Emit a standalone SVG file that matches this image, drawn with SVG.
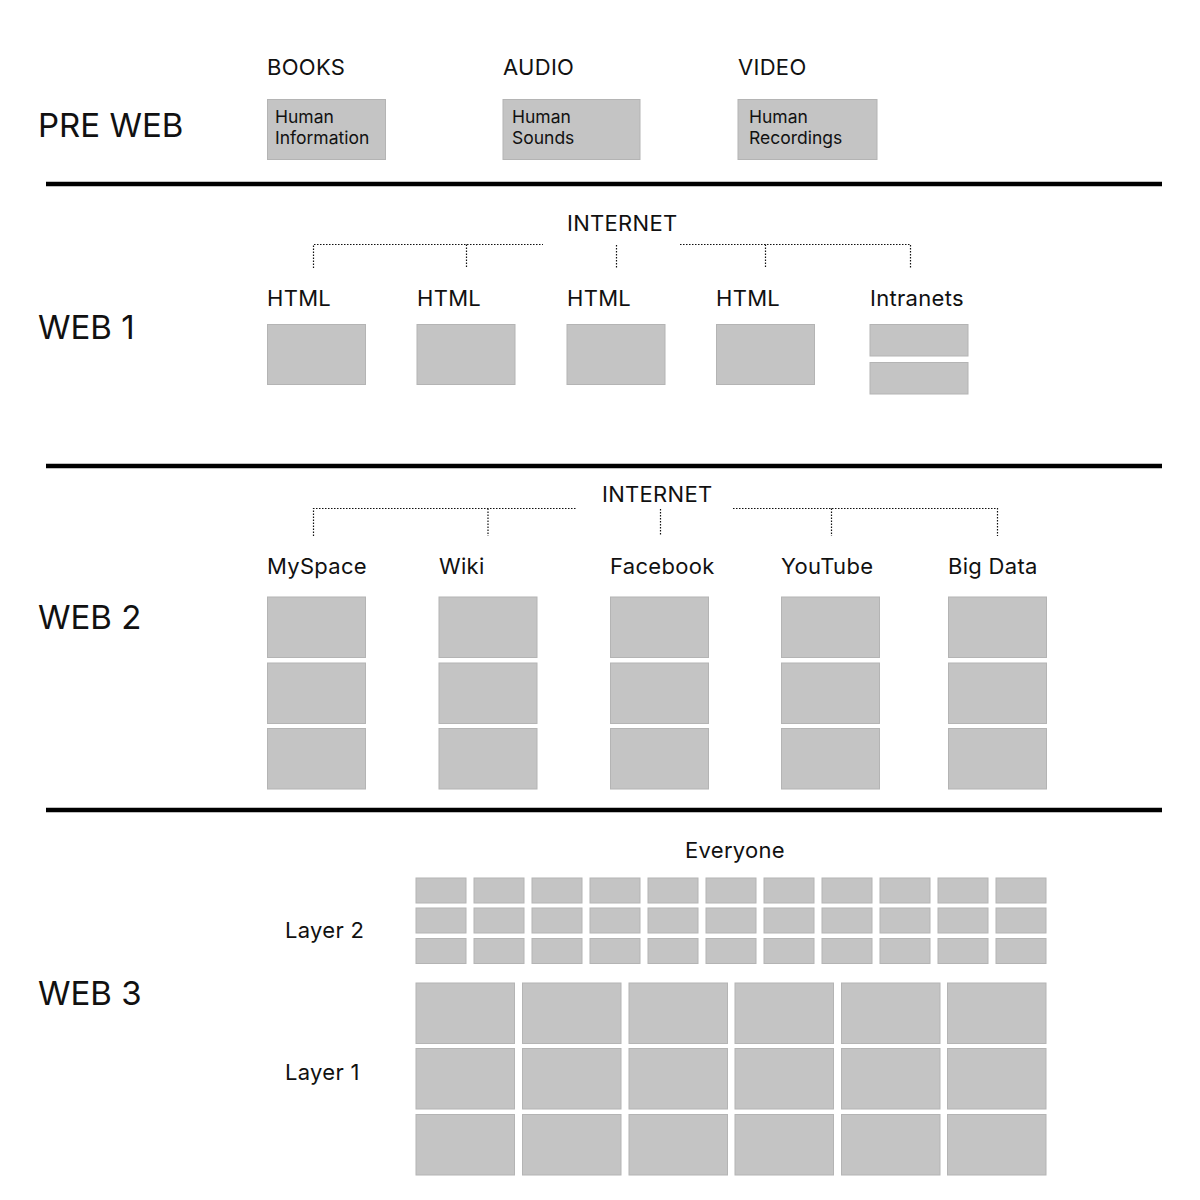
<svg xmlns="http://www.w3.org/2000/svg" width="1200" height="1200" viewBox="0 0 1200 1200">
<style>
text{font-family:Inter,"Noto Sans","Liberation Sans",sans-serif;fill:#111}
.h{font-size:33px}
.l{font-size:22px;letter-spacing:0.3px}
.s{font-size:17.5px}
.b{fill:#c4c4c4;stroke:#b4b4b4;stroke-width:1}
.sep{stroke:#000;stroke-width:4.5}
.dot{stroke:#111;stroke-width:1.2;stroke-dasharray:1.5 1.5;fill:none}
</style>
<rect width="1200" height="1200" fill="#fff"/>
<g id="separators">
<line class="sep" x1="46" y1="184" x2="1162" y2="184"/>
<line class="sep" x1="46" y1="466" x2="1162" y2="466"/>
<line class="sep" x1="46" y1="810" x2="1162" y2="810"/>
</g>
<g id="titles">
<text class="h" x="38" y="137">PRE WEB</text>
<text class="h" x="38" y="339">WEB 1</text>
<text class="h" x="38" y="629">WEB 2</text>
<text class="h" x="38" y="1005">WEB 3</text>
</g>
<g id="preweb">
<g id="books"><text class="l" x="267" y="75">BOOKS</text><rect class="b" x="267.5" y="99.5" width="118" height="60"/><text class="s" x="275" y="123">Human</text><text class="s" x="275" y="144">Information</text></g>
<g id="audio"><text class="l" x="503" y="75">AUDIO</text><rect class="b" x="503" y="99.5" width="137" height="60"/><text class="s" x="512" y="123">Human</text><text class="s" x="512" y="144">Sounds</text></g>
<g id="video"><text class="l" x="738" y="75">VIDEO</text><rect class="b" x="738" y="99.5" width="139" height="60"/><text class="s" x="749" y="123">Human</text><text class="s" x="749" y="144">Recordings</text></g>
</g>
<g id="connectors">
<path class="dot" d="M313.5 268V244.5H543M466.5 244.5V268M616.5 245V268M680 244.5H910.5V268M765.5 244.5V268"/>
<path class="dot" d="M313.5 536V508.5H576M488 508.5V536M660.5 509V536M733 508.5H997.5V536M831.5 508.5V536"/>
</g>
<g id="web1">
<text class="l" x="567" y="231">INTERNET</text>
<g id="html1"><text class="l" x="267" y="306">HTML</text><rect class="b" x="267.5" y="324.5" width="98" height="60"/></g>
<g id="html2"><text class="l" x="417" y="306">HTML</text><rect class="b" x="417" y="324.5" width="98" height="60"/></g>
<g id="html3"><text class="l" x="567" y="306">HTML</text><rect class="b" x="567" y="324.5" width="98" height="60"/></g>
<g id="html4"><text class="l" x="716" y="306">HTML</text><rect class="b" x="716.5" y="324.5" width="98" height="60"/></g>
<g id="intranets"><text class="l" x="870" y="306">Intranets</text><rect class="b" x="870" y="324.5" width="98" height="31.5"/><rect class="b" x="870" y="362.5" width="98" height="31.5"/></g>
</g>
<g id="web2">
<text class="l" x="602" y="502">INTERNET</text>
<g id="myspace"><text class="l" x="267" y="574">MySpace</text><rect class="b" x="267.5" y="597" width="98" height="60.5"/><rect class="b" x="267.5" y="663" width="98" height="60.5"/><rect class="b" x="267.5" y="728.5" width="98" height="60.5"/></g>
<g id="wiki"><text class="l" x="439" y="574">Wiki</text><rect class="b" x="439" y="597" width="98" height="60.5"/><rect class="b" x="439" y="663" width="98" height="60.5"/><rect class="b" x="439" y="728.5" width="98" height="60.5"/></g>
<g id="facebook"><text class="l" x="610" y="574">Facebook</text><rect class="b" x="610.5" y="597" width="98" height="60.5"/><rect class="b" x="610.5" y="663" width="98" height="60.5"/><rect class="b" x="610.5" y="728.5" width="98" height="60.5"/></g>
<g id="youtube"><text class="l" x="781" y="574">YouTube</text><rect class="b" x="781.5" y="597" width="98" height="60.5"/><rect class="b" x="781.5" y="663" width="98" height="60.5"/><rect class="b" x="781.5" y="728.5" width="98" height="60.5"/></g>
<g id="bigdata"><text class="l" x="948" y="574">Big Data</text><rect class="b" x="948.5" y="597" width="98" height="60.5"/><rect class="b" x="948.5" y="663" width="98" height="60.5"/><rect class="b" x="948.5" y="728.5" width="98" height="60.5"/></g>
</g>
<g id="web3">
<text class="l" x="685" y="858">Everyone</text>
<text class="l" x="285" y="938">Layer 2</text>
<text class="l" x="285" y="1080">Layer 1</text>
<g id="layer2">
<rect class="b" x="416" y="878" width="50" height="25"/><rect class="b" x="474" y="878" width="50" height="25"/><rect class="b" x="532" y="878" width="50" height="25"/><rect class="b" x="590" y="878" width="50" height="25"/><rect class="b" x="648" y="878" width="50" height="25"/><rect class="b" x="706" y="878" width="50" height="25"/><rect class="b" x="764" y="878" width="50" height="25"/><rect class="b" x="822" y="878" width="50" height="25"/><rect class="b" x="880" y="878" width="50" height="25"/><rect class="b" x="938" y="878" width="50" height="25"/><rect class="b" x="996" y="878" width="50" height="25"/>
<rect class="b" x="416" y="908" width="50" height="25"/><rect class="b" x="474" y="908" width="50" height="25"/><rect class="b" x="532" y="908" width="50" height="25"/><rect class="b" x="590" y="908" width="50" height="25"/><rect class="b" x="648" y="908" width="50" height="25"/><rect class="b" x="706" y="908" width="50" height="25"/><rect class="b" x="764" y="908" width="50" height="25"/><rect class="b" x="822" y="908" width="50" height="25"/><rect class="b" x="880" y="908" width="50" height="25"/><rect class="b" x="938" y="908" width="50" height="25"/><rect class="b" x="996" y="908" width="50" height="25"/>
<rect class="b" x="416" y="938.5" width="50" height="25"/><rect class="b" x="474" y="938.5" width="50" height="25"/><rect class="b" x="532" y="938.5" width="50" height="25"/><rect class="b" x="590" y="938.5" width="50" height="25"/><rect class="b" x="648" y="938.5" width="50" height="25"/><rect class="b" x="706" y="938.5" width="50" height="25"/><rect class="b" x="764" y="938.5" width="50" height="25"/><rect class="b" x="822" y="938.5" width="50" height="25"/><rect class="b" x="880" y="938.5" width="50" height="25"/><rect class="b" x="938" y="938.5" width="50" height="25"/><rect class="b" x="996" y="938.5" width="50" height="25"/>
</g>
<g id="layer1">
<rect class="b" x="416" y="983" width="98.5" height="60.5"/><rect class="b" x="522.5" y="983" width="98.5" height="60.5"/><rect class="b" x="629" y="983" width="98.5" height="60.5"/><rect class="b" x="735" y="983" width="98.5" height="60.5"/><rect class="b" x="841.5" y="983" width="98.5" height="60.5"/><rect class="b" x="947.5" y="983" width="98.5" height="60.5"/>
<rect class="b" x="416" y="1048.5" width="98.5" height="60.5"/><rect class="b" x="522.5" y="1048.5" width="98.5" height="60.5"/><rect class="b" x="629" y="1048.5" width="98.5" height="60.5"/><rect class="b" x="735" y="1048.5" width="98.5" height="60.5"/><rect class="b" x="841.5" y="1048.5" width="98.5" height="60.5"/><rect class="b" x="947.5" y="1048.5" width="98.5" height="60.5"/>
<rect class="b" x="416" y="1114.5" width="98.5" height="60.5"/><rect class="b" x="522.5" y="1114.5" width="98.5" height="60.5"/><rect class="b" x="629" y="1114.5" width="98.5" height="60.5"/><rect class="b" x="735" y="1114.5" width="98.5" height="60.5"/><rect class="b" x="841.5" y="1114.5" width="98.5" height="60.5"/><rect class="b" x="947.5" y="1114.5" width="98.5" height="60.5"/>
</g>
</g>
</svg>
